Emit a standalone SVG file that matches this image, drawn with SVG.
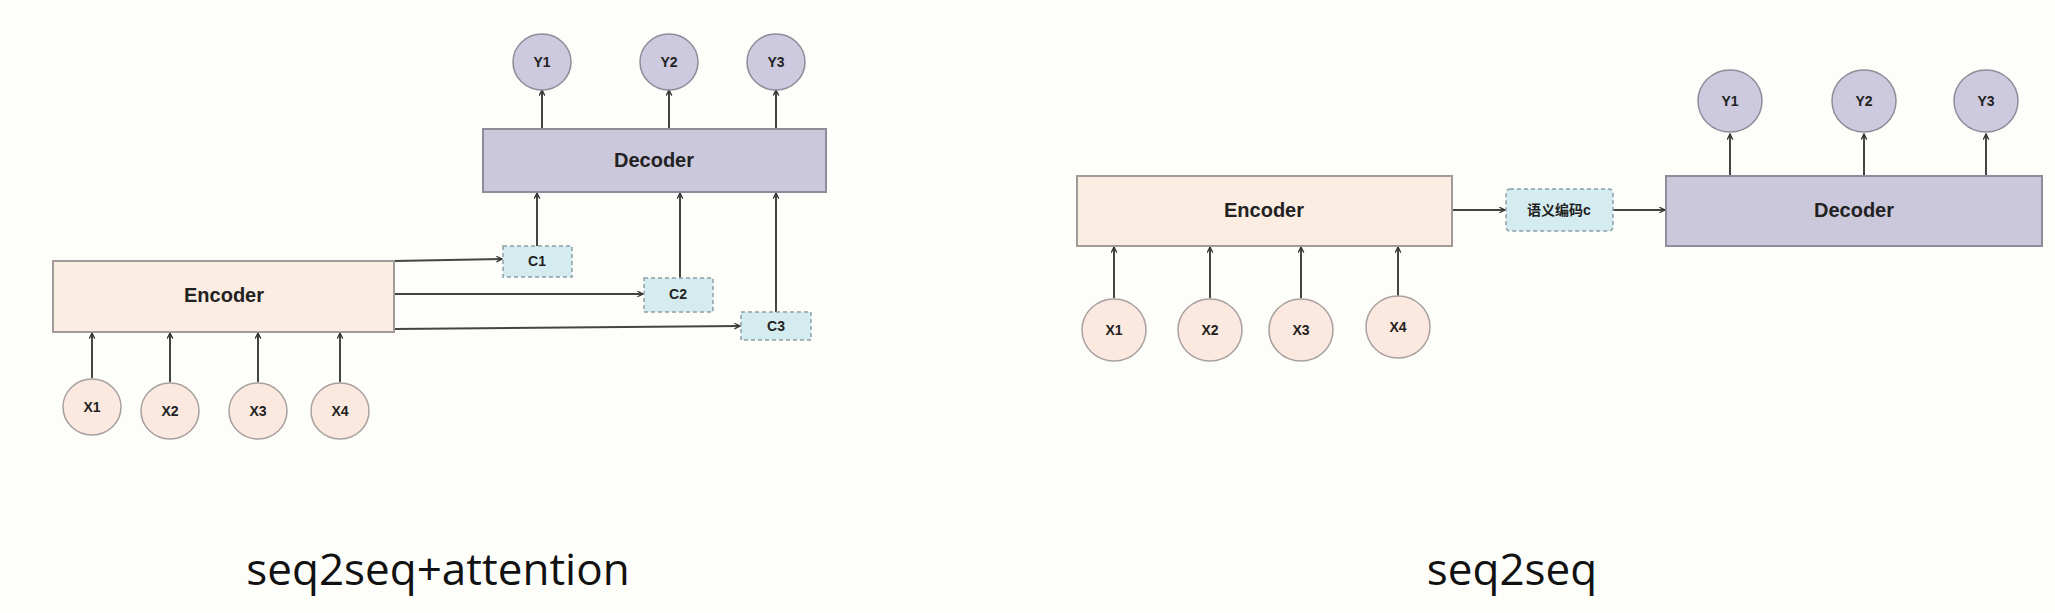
<svg xmlns="http://www.w3.org/2000/svg" width="2055" height="613" viewBox="0 0 2055 613">
<style>
.enc{fill:#fbede2;stroke:#a09a98;stroke-width:2}
.dec{fill:#ccc8dc;stroke:#8f8c98;stroke-width:2}
.x{fill:#fbe8de;stroke:#a8a0a0;stroke-width:1.5}
.y{fill:#cdc9df;stroke:#8f8c98;stroke-width:1.5}
.c{fill:#d4ecf0;stroke:#8aa0a8;stroke-width:1.5;stroke-dasharray:4 3}
.lbl{font-family:"Liberation Sans",Arial,sans-serif;font-weight:bold;fill:#222;text-anchor:middle}
.big{font-family:"Open Sans","Noto Sans",sans-serif;fill:#111;text-anchor:middle;font-size:44px}
.cn{font-family:"Liberation Sans","Noto Sans CJK SC",sans-serif;font-weight:bold;fill:#222;text-anchor:middle;font-size:14px}
#conn line{stroke:#444;stroke-width:2;marker-end:url(#ar)}
</style>
<defs><marker id="ar" viewBox="0 0 10 10" refX="9" refY="5" markerWidth="7" markerHeight="7" orient="auto" markerUnits="userSpaceOnUse"><path d="M1 1L9 5L1 9" fill="none" stroke="#333" stroke-width="1.8"/></marker></defs>
<rect width="2055" height="613" fill="#fdfdf9"/>
<g id="conn">
<line x1="92" y1="378" x2="92" y2="333"/><line x1="170" y1="382" x2="170" y2="333"/><line x1="258" y1="382" x2="258" y2="333"/><line x1="340" y1="382" x2="340" y2="333"/>
<line x1="394" y1="261" x2="502" y2="259"/><line x1="394" y1="294" x2="643" y2="294"/><line x1="394" y1="329" x2="740" y2="326"/>
<line x1="537" y1="246" x2="537" y2="193"/><line x1="680" y1="278" x2="680" y2="193"/><line x1="776" y1="312" x2="776" y2="193"/>
<line x1="542" y1="129" x2="542" y2="90"/><line x1="669" y1="129" x2="669" y2="90"/><line x1="776" y1="129" x2="776" y2="90"/>
<line x1="1114" y1="298" x2="1114" y2="247"/><line x1="1210" y1="298" x2="1210" y2="247"/><line x1="1301" y1="298" x2="1301" y2="247"/><line x1="1398" y1="296" x2="1398" y2="247"/>
<line x1="1452" y1="210" x2="1505" y2="210"/><line x1="1613" y1="210" x2="1665" y2="210"/>
<line x1="1730" y1="176" x2="1730" y2="134"/><line x1="1864" y1="176" x2="1864" y2="134"/><line x1="1986" y1="176" x2="1986" y2="134"/>
</g>
<g id="dec1"><rect class="dec" x="483" y="129" width="343" height="63"/><text class="lbl" x="654" y="167" font-size="20">Decoder</text></g>
<g id="y1a"><ellipse class="y" cx="542" cy="62" rx="29" ry="28"/><text class="lbl" x="542" y="67" font-size="14">Y1</text></g>
<g id="y2a"><ellipse class="y" cx="669" cy="62" rx="29" ry="28"/><text class="lbl" x="669" y="67" font-size="14">Y2</text></g>
<g id="y3a"><ellipse class="y" cx="776" cy="62" rx="29" ry="28"/><text class="lbl" x="776" y="67" font-size="14">Y3</text></g>
<g id="c1"><rect class="c" x="503" y="246" width="69" height="31"/><text class="lbl" x="537" y="266" font-size="14">C1</text></g>
<g id="c2"><rect class="c" x="644" y="278" width="69" height="34"/><text class="lbl" x="678" y="299" font-size="14">C2</text></g>
<g id="c3"><rect class="c" x="741" y="312" width="70" height="28"/><text class="lbl" x="776" y="331" font-size="14">C3</text></g>
<g id="enc1"><rect class="enc" x="53" y="261" width="341" height="71"/><text class="lbl" x="224" y="302" font-size="20">Encoder</text></g>
<g id="x1a"><ellipse class="x" cx="92" cy="407" rx="29" ry="28"/><text class="lbl" x="92" y="412" font-size="14">X1</text></g>
<g id="x2a"><ellipse class="x" cx="170" cy="411" rx="29" ry="28"/><text class="lbl" x="170" y="416" font-size="14">X2</text></g>
<g id="x3a"><ellipse class="x" cx="258" cy="411" rx="29" ry="28"/><text class="lbl" x="258" y="416" font-size="14">X3</text></g>
<g id="x4a"><ellipse class="x" cx="340" cy="411" rx="29" ry="28"/><text class="lbl" x="340" y="416" font-size="14">X4</text></g>
<text class="big" x="438" y="585">seq2seq+attention</text>
<g id="enc2"><rect class="enc" x="1077" y="176" width="375" height="70"/><text class="lbl" x="1264" y="217" font-size="20">Encoder</text></g>
<g id="cbox"><rect class="c" x="1506" y="189" width="107" height="42" rx="4"/><text class="cn" x="1559" y="215">语义编码c</text></g>
<g id="dec2"><rect class="dec" x="1666" y="176" width="376" height="70"/><text class="lbl" x="1854" y="217" font-size="20">Decoder</text></g>
<g id="y1b"><ellipse class="y" cx="1730" cy="101" rx="32" ry="31"/><text class="lbl" x="1730" y="106" font-size="14">Y1</text></g>
<g id="y2b"><ellipse class="y" cx="1864" cy="101" rx="32" ry="31"/><text class="lbl" x="1864" y="106" font-size="14">Y2</text></g>
<g id="y3b"><ellipse class="y" cx="1986" cy="101" rx="32" ry="31"/><text class="lbl" x="1986" y="106" font-size="14">Y3</text></g>
<g id="x1b"><ellipse class="x" cx="1114" cy="330" rx="32" ry="31"/><text class="lbl" x="1114" y="335" font-size="14">X1</text></g>
<g id="x2b"><ellipse class="x" cx="1210" cy="330" rx="32" ry="31"/><text class="lbl" x="1210" y="335" font-size="14">X2</text></g>
<g id="x3b"><ellipse class="x" cx="1301" cy="330" rx="32" ry="31"/><text class="lbl" x="1301" y="335" font-size="14">X3</text></g>
<g id="x4b"><ellipse class="x" cx="1398" cy="327" rx="32" ry="31"/><text class="lbl" x="1398" y="332" font-size="14">X4</text></g>
<text class="big" x="1512" y="585">seq2seq</text>
</svg>
